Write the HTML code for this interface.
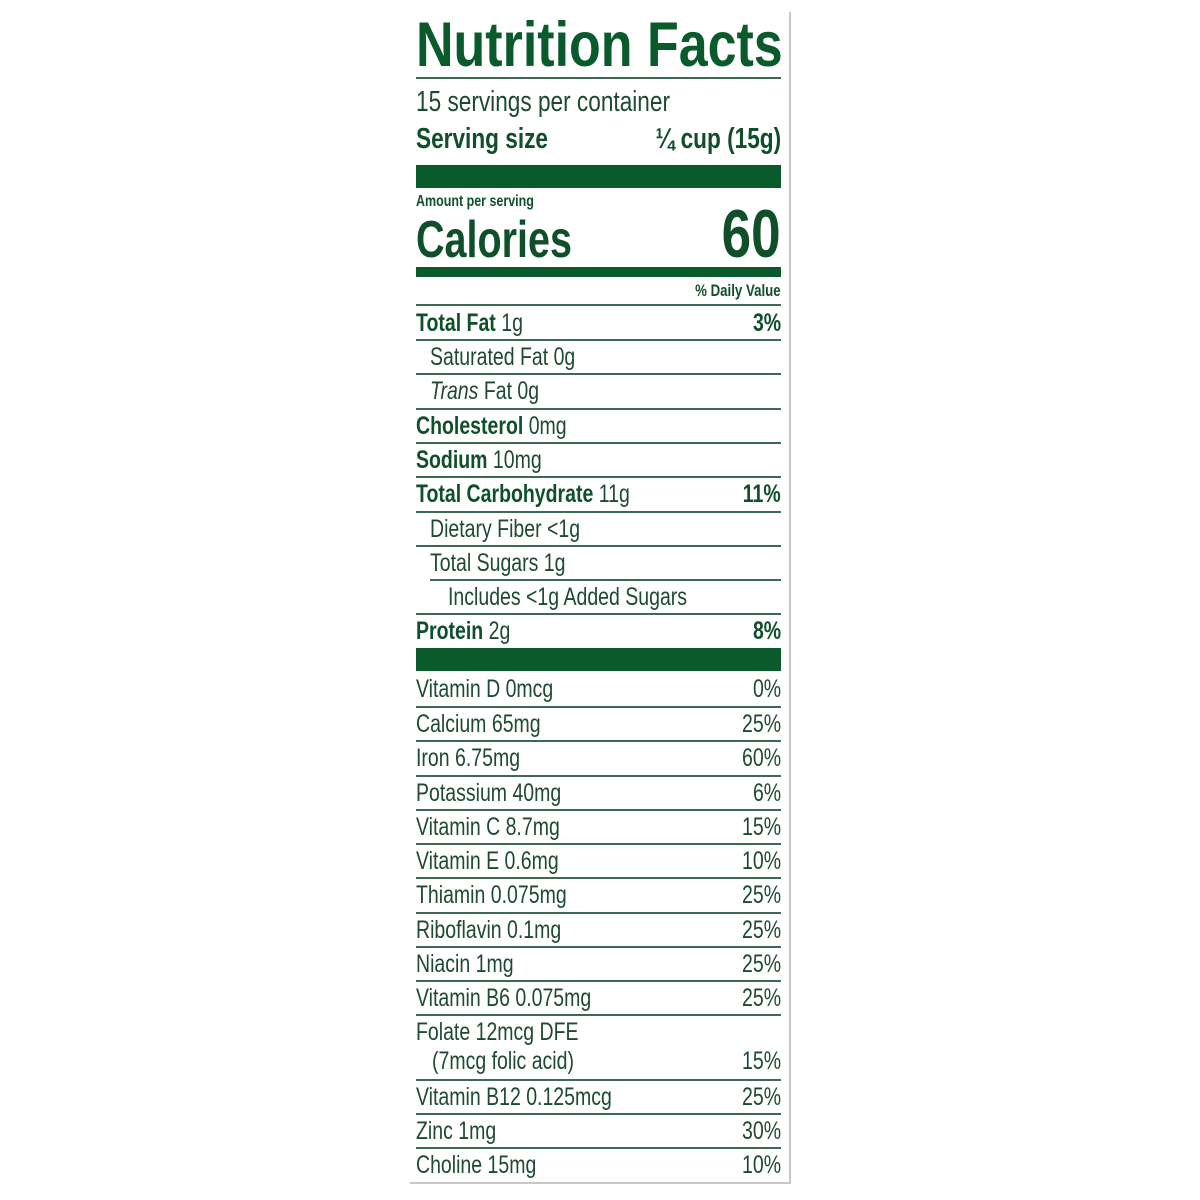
<!DOCTYPE html>
<html><head><meta charset="utf-8"><style>
body{margin:0;width:1200px;height:1200px;background:#fff;position:relative;overflow:hidden;font-family:"Liberation Sans",sans-serif;color:#1d4a30}
.a{position:absolute;white-space:nowrap}
.l{transform:scaleX(.78);transform-origin:left center}
.r{transform:scaleX(.78);transform-origin:right center;right:419px;text-align:right}
.hl{position:absolute;left:416px;width:365px;height:2px;background:#3d6a52}
.bar{position:absolute;left:416px;width:365px;background:#0b5a2c}
.t{font-size:25px;line-height:34px}
b{font-weight:bold;color:#0f4f2a}
</style></head><body>
<div style="position:absolute;left:789px;top:12px;width:2px;height:1172px;background:#c8c8c8"></div>
<div style="position:absolute;left:410px;top:1182px;width:381px;height:2px;background:#c8c8c8"></div>

<div class="a l" style="left:416px;top:10px;font-size:63px;line-height:70px;font-weight:bold;color:#0b5a2c;transform:scaleX(.825)">Nutrition Facts</div>
<div class="hl" style="top:77px"></div>
<div class="a l" style="left:416px;top:84px;font-size:29px;line-height:36px">15 servings per container</div>
<div class="a l" style="left:416px;top:121px;font-size:29px;line-height:36px;font-weight:bold;color:#0f4f2a">Serving size</div>
<div class="a r" style="top:121px;font-size:29px;line-height:36px;font-weight:bold;color:#0f4f2a">¼ cup (15g)</div>
<div class="bar" style="top:165px;height:23px"></div>
<div class="a l" style="left:416px;top:192px;font-size:16px;line-height:20px;font-weight:bold;color:#0f4f2a">Amount per serving</div>
<div class="a l" style="left:416px;top:210px;font-size:52px;line-height:60px;font-weight:bold;color:#0f4f2a;transform:scaleX(.76)">Calories</div>
<div class="a r" style="top:196px;font-size:68px;line-height:76px;font-weight:bold;color:#0f4f2a">60</div>
<div class="bar" style="top:267px;height:10px"></div>
<div class="a r" style="top:281px;font-size:17px;line-height:20px;font-weight:bold;color:#0f4f2a">% Daily Value</div>
<div class="hl" style="top:304px"></div>

<div class="a l t" style="left:416px;top:306px"><b>Total Fat</b> 1g</div><div class="a r t" style="top:306px"><b>3%</b></div>
<div class="hl" style="top:339px"></div>
<div class="a l t" style="left:430px;top:340px">Saturated Fat 0g</div>
<div class="hl" style="top:373px"></div>
<div class="a l t" style="left:430px;top:374px"><i>Trans</i> Fat 0g</div>
<div class="hl" style="top:408px"></div>
<div class="a l t" style="left:416px;top:409px"><b>Cholesterol</b> 0mg</div>
<div class="hl" style="top:442px"></div>
<div class="a l t" style="left:416px;top:443px"><b>Sodium</b> 10mg</div>
<div class="hl" style="top:476px"></div>
<div class="a l t" style="left:416px;top:477px"><b>Total Carbohydrate</b> 11g</div><div class="a r t" style="top:477px"><b>11%</b></div>
<div class="hl" style="top:511px"></div>
<div class="a l t" style="left:430px;top:512px">Dietary Fiber &lt;1g</div>
<div class="hl" style="top:545px"></div>
<div class="a l t" style="left:430px;top:546px">Total Sugars 1g</div>
<div class="hl" style="top:579px;left:430px;width:351px"></div>
<div class="a l t" style="left:448px;top:580px">Includes &lt;1g Added Sugars</div>
<div class="hl" style="top:613px"></div>
<div class="a l t" style="left:416px;top:614px"><b>Protein</b> 2g</div><div class="a r t" style="top:614px"><b>8%</b></div>
<div class="bar" style="top:648px;height:23px"></div>

<div class="a l t" style="left:416px;top:672px">Vitamin D 0mcg</div><div class="a r t" style="top:672px">0%</div>
<div class="hl" style="top:706px"></div>
<div class="a l t" style="left:416px;top:707px">Calcium 65mg</div><div class="a r t" style="top:707px">25%</div>
<div class="hl" style="top:740px"></div>
<div class="a l t" style="left:416px;top:741px">Iron 6.75mg</div><div class="a r t" style="top:741px">60%</div>
<div class="hl" style="top:775px"></div>
<div class="a l t" style="left:416px;top:776px">Potassium 40mg</div><div class="a r t" style="top:776px">6%</div>
<div class="hl" style="top:809px"></div>
<div class="a l t" style="left:416px;top:810px">Vitamin C 8.7mg</div><div class="a r t" style="top:810px">15%</div>
<div class="hl" style="top:843px"></div>
<div class="a l t" style="left:416px;top:844px">Vitamin E 0.6mg</div><div class="a r t" style="top:844px">10%</div>
<div class="hl" style="top:877px"></div>
<div class="a l t" style="left:416px;top:878px">Thiamin 0.075mg</div><div class="a r t" style="top:878px">25%</div>
<div class="hl" style="top:912px"></div>
<div class="a l t" style="left:416px;top:913px">Riboflavin 0.1mg</div><div class="a r t" style="top:913px">25%</div>
<div class="hl" style="top:946px"></div>
<div class="a l t" style="left:416px;top:947px">Niacin 1mg</div><div class="a r t" style="top:947px">25%</div>
<div class="hl" style="top:980px"></div>
<div class="a l t" style="left:416px;top:981px">Vitamin B6 0.075mg</div><div class="a r t" style="top:981px">25%</div>
<div class="hl" style="top:1014px"></div>
<div class="a l t" style="left:416px;top:1015px">Folate 12mcg DFE</div>
<div class="a l t" style="left:432px;top:1044px">(7mcg folic acid)</div><div class="a r t" style="top:1044px">15%</div>
<div class="hl" style="top:1079px"></div>
<div class="a l t" style="left:416px;top:1080px">Vitamin B12 0.125mcg</div><div class="a r t" style="top:1080px">25%</div>
<div class="hl" style="top:1113px"></div>
<div class="a l t" style="left:416px;top:1114px">Zinc 1mg</div><div class="a r t" style="top:1114px">30%</div>
<div class="hl" style="top:1147px"></div>
<div class="a l t" style="left:416px;top:1148px">Choline 15mg</div><div class="a r t" style="top:1148px">10%</div>
</body></html>
